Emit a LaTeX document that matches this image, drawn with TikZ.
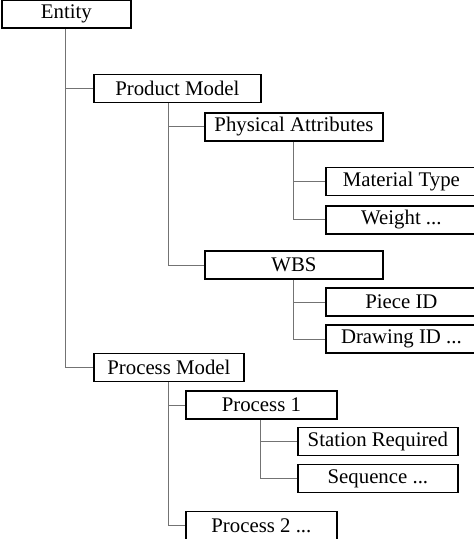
\documentclass[tikz,border=0pt]{standalone}
\usepackage{fontspec}
\setmainfont{Liberation Serif}
\begin{document}
\begin{tikzpicture}[x=0.5pt,y=-0.5pt,
    box/.style={draw=black, line width=0.9pt, fill=white, minimum height=14pt,
      inner sep=0pt, anchor=west, font=\fontsize{10.4}{12}\selectfont},
    link/.style={draw=black!55, line width=0.5pt}]
    \useasboundingbox (0,0) rectangle (474,539);
    \clip (0,0) rectangle (474,539);

    %NIVEL 0
    \node[box, minimum width=64.5pt] (entity) at (1,14) {Entity};

    %PRODUCTO
    \node[box, minimum width=83.5pt] (product) at (93,88.5) {Product Model};
    \node[box, minimum width=89pt] (pa) at (204,127) {Physical Attributes};
    \node[box, minimum width=75.5pt] (mat) at (325,181.5) {Material Type};
    \node[box, minimum width=75.5pt] (weight) at (325,220) {Weight ...};
    \node[box, minimum width=89pt] (wbs) at (204,265) {WBS};
    \node[box, minimum width=75.5pt] (piece) at (325,302) {Piece ID};
    \node[box, minimum width=75.5pt] (drawing) at (325,339) {Drawing ID ...};

    %PROCESO
    \node[box, minimum width=75pt] (procm) at (93,367.5) {Process Model};
    \node[box, minimum width=75.5pt] (proc1) at (185,405) {Process 1};
    \node[box, minimum width=80pt] (station) at (297,441.5) {Station Required};
    \node[box, minimum width=80pt] (seq) at (297,478.5) {Sequence ...};
    \node[box, minimum width=75.5pt] (proc2) at (185,525.5) {Process 2 ...};

    %CONECTORES
    \foreach \p/\dx/\c in {entity/64/product, entity/64/procm,
        product/75/pa, product/75/wbs, pa/89/mat, pa/89/weight,
        wbs/89/piece, wbs/89/drawing, procm/75/proc1, procm/75/proc2,
        proc1/75/station, proc1/75/seq}{
        \draw[link] (\p.south west) ++(\dx,0) |- (\c.west);
    }
\end{tikzpicture}
\end{document}
